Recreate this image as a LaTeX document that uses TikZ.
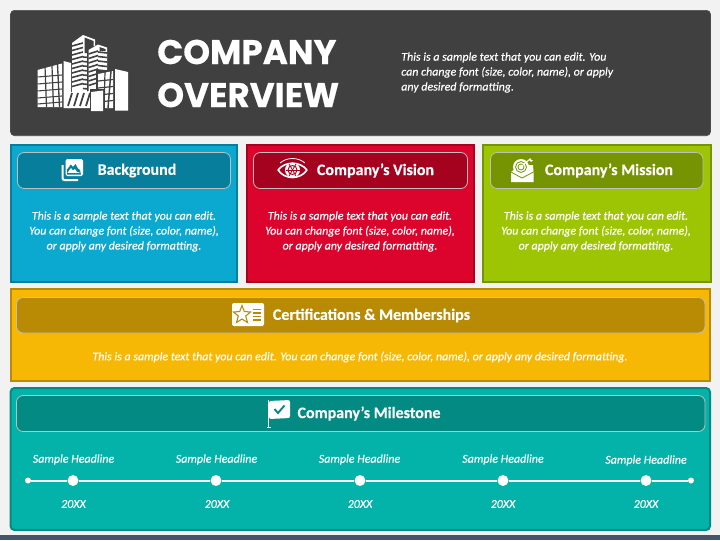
\documentclass[tikz,border=0pt]{standalone}
\usepackage{fontspec}
\setmainfont[BoldFeatures={FakeBold=0.3}]{Carlito}
\newfontfamily\titlefont[BoldFeatures={FakeBold=0.5}]{Poppins}
\newfontfamily\itfont[ItalicFeatures={FakeBold=0.25}]{Carlito}
\definecolor{pagebg}{HTML}{F2F2F2}
\definecolor{darkbg}{HTML}{404040}
\definecolor{blueF}{HTML}{0BA8D0}\definecolor{blueD}{HTML}{087E9D}
\definecolor{redF}{HTML}{DC042C}\definecolor{redD}{HTML}{A5021F}
\definecolor{greenF}{HTML}{9EC503}\definecolor{greenD}{HTML}{769402}
\definecolor{amberF}{HTML}{F7B805}\definecolor{amberD}{HTML}{B98A03}
\definecolor{tealF}{HTML}{03B3AA}\definecolor{tealD}{HTML}{038A82}
\definecolor{strip}{HTML}{44546A}
\tikzset{
 x=0.75pt,y=-0.75pt,
 cardbox/.style={line width=1.5pt},
 headbox/.style={rounded corners=5pt,draw=white!75!black,line width=0.6pt},
 headtxt/.style={text=white,font=\fontsize{12}{14}\selectfont\bfseries,anchor=center,inner sep=0pt},
 bodytxt/.style={text=white,font=\itfont\fontsize{8.95}{11.2}\selectfont\itshape,align=center,anchor=center,inner sep=0pt},
 tltxt/.style={text=white,font=\itfont\fontsize{9}{10}\selectfont\itshape,anchor=center,inner sep=0pt},
 bigdot/.style={circle,fill=white,minimum size=8.2pt,inner sep=0pt},
 smalldot/.style={circle,fill=white,minimum size=4.5pt,inner sep=0pt},
}
\begin{document}
\begin{tikzpicture}
\useasboundingbox (0,0) rectangle (720,540);
\fill[pagebg] (0,0) rectangle (720,540);
\fill[strip] (0,535) rectangle (720,540);
% title panel
\node[draw=black!70,fill=darkbg,rounded corners=3pt,minimum width=525pt,minimum height=94pt,inner sep=0pt,line width=.5pt] (top) at (360.5,73) {};
% building icon
\begin{scope}
% left block
\fill[white] (37.5,70) -- (62,63.5) -- (62,107) -- (37.5,107) -- cycle;
\foreach \yy in {77,84,91,98,104} \draw[darkbg,line width=.8pt] (37.5,\yy) -- (62,\yy-2);
\foreach \xx in {45,52} \draw[darkbg,line width=.9pt] (\xx,66) -- (\xx+1.5,107);
\draw[darkbg,line width=1pt] (57.5,64) -- (59.5,107);
% wall
\fill[white] (63.5,61) -- (71,63) -- (71,108) -- (63.5,108) -- cycle;
% tower 1
\fill[white] (72,43) -- (83,35) -- (83,92) -- (72,92) -- cycle;
\foreach \yy in {46,50.5,55,59.5,64,68.5,73,77.5,82,86.5} \draw[darkbg,line width=1.2pt] (72,\yy) -- (83,\yy-3);
\fill[white] (83,35) -- (95,39.5) -- (95,92) -- (83,92) -- cycle;
\fill[darkbg] (84.5,37.5) -- (93.5,41) -- (93.5,53) -- (84.5,53) -- cycle;
\foreach \yy in {57,61.5,66,70.5,75,79.5,84,88.5} \draw[darkbg,line width=1.2pt] (83,\yy) -- (95,\yy+1);
% tower 2
\fill[darkbg] (87,46) -- (108,46) -- (108,92) -- (87,92) -- cycle;
\fill[white] (88.5,50) -- (98,44.5) -- (107,47.5) -- (107,92) -- (88.5,92) -- cycle;
\foreach \yy in {54,58.5,63,67.5,72,76.5,81,85.5} \draw[darkbg,line width=1.2pt] (88.5,\yy) -- (98,\yy-3);
\foreach \yy in {52,56.5,61,65.5,70,74.5} \draw[darkbg,line width=1.2pt] (98,\yy) -- (107,\yy+1);
\fill[darkbg] (99.5,47) -- (105.5,49) -- (105.5,51) -- (99.5,51) -- cycle;
% right block
\fill[darkbg] (96,70) rectangle (114.5,110);
\fill[white] (98,74) -- (113,71) -- (113,108) -- (98,108) -- cycle;
\foreach \yy in {81,88,95,102} \draw[darkbg,line width=.9pt] (98,\yy) -- (113,\yy-1.5);
\draw[darkbg,line width=.9pt] (105,72) -- (104,108);
\draw[darkbg,line width=1.1pt] (111,71) -- (108,108);
% slab
\fill[white] (115,69) -- (128,72) -- (128,110.5) -- (115,110.5) -- cycle;
% lower centre
\fill[white] (66.5,92.5) -- (92,91) -- (92,108) -- (66.5,108) -- cycle;
\foreach \xx in {68,74,80,86} \draw[darkbg,line width=1.3pt] (\xx,106) -- (\xx+4,93);
\fill[darkbg] (89.5,89) rectangle (104.5,112);
\fill[white] (91,92) -- (103,90.5) -- (103,111) -- (91,111) -- cycle;
\end{scope}
\node[text=white,font=\titlefont\fontsize{25.6}{32}\selectfont\bfseries,anchor=west,inner sep=0pt] (t1) at (157,52) {COMPANY};
\node[text=white,font=\titlefont\fontsize{25.6}{32}\selectfont\bfseries,anchor=west,inner sep=0pt] (t2) at (157,95) {OVERVIEW};
\node[text=white,font=\itfont\fontsize{8.95}{11.2}\selectfont\itshape,align=left,anchor=west,inner sep=0pt] (tt) at (401,72.5) {This is a sample text that you can edit. You\\can change font (size, color, name), or apply\\any desired formatting.};
% cards
\fill[blueF,draw=blueD,cardbox] (10.5,144.5) rectangle (237,281.5);
\fill[blueD,headbox] (17.5,152.5) rectangle (230.5,188.5);
\node[headtxt] (h1) at (137,170.5) {Background};
\node[bodytxt] (b1) at (124,231.5) {This is a sample text that you can edit.\\You can change font (size, color, name),\\or apply any desired formatting.};
\fill[redF,draw=redD,cardbox] (246.5,144.5) rectangle (473.5,281.5);
\fill[redD,headbox] (253.5,152.5) rectangle (467.5,188.5);
\node[headtxt] (h2) at (375.5,170.5) {Company’s Vision};
\node[bodytxt] (b2) at (360,231.5) {This is a sample text that you can edit.\\You can change font (size, color, name),\\or apply any desired formatting.};
\fill[greenF,draw=greenD,cardbox] (482.5,144.5) rectangle (710.5,281.5);
\fill[greenD,headbox] (490.5,152.5) rectangle (703,188.5);
\node[headtxt] (h3) at (609,170.5) {Company’s Mission};
\node[bodytxt] (b3) at (596,231.5) {This is a sample text that you can edit.\\You can change font (size, color, name),\\or apply any desired formatting.};
\fill[amberF,draw=amberD,cardbox] (10.5,289) rectangle (710,380.5);
\fill[amberD,headbox] (16.5,297.5) rectangle (705,333);
\node[headtxt] (h4) at (371.5,315.5) {Certifications \& Memberships};
\node[bodytxt] (b4) at (360,357) {This is a sample text that you can edit. You can change font (size, color, name), or apply any desired formatting.};
\fill[tealF,draw=tealD,cardbox,rounded corners=3pt] (10.5,388) rectangle (710,530);
\fill[tealD,headbox] (16.5,395.5) rectangle (705,431.5);
\node[headtxt] (h5) at (369,413.5) {Company’s Milestone};
% icon background
\begin{scope}
\fill[white,rounded corners=1.2pt] (65.5,159) rectangle (83,176);
\fill[blueD] (67,169.5) -- (71,164.5) -- (73,167) -- (75.5,164) -- (78,168.5) -- (80,170) -- (81,174.5) -- (67,174.5) -- cycle;
\fill[white] (67.5,172.8) -- (71,168) -- (73,170.5) -- (75,169) -- (77,172) -- (80.5,172.8) -- cycle;
\draw[white,line width=1.5pt,rounded corners=1.5pt] (62.5,165) -- (62.5,180) -- (78,180);
\end{scope}
% icon eye
\begin{scope}
\draw[white,line width=1.2pt] (278,170) .. controls (285,161) and (300,161) .. (307,170);
\draw[white,line width=1.2pt] (278,170) .. controls (285,180) and (300,180) .. (307,170);
\draw[white,line width=.6pt] (280,163) .. controls (287,157) and (298,157) .. (305,163);
\fill[white] (292.5,170) circle (7.5);
\foreach \a in {0,60,...,300} \draw[redD,line width=.6pt] (292.5,170) -- ++(\a:7);
\draw[redD,line width=.7pt] (292.5,170) circle (4.5);
\end{scope}
% icon mission
\begin{scope}
\fill[white] (511,172) -- (520,165) -- (533,165) -- (533.5,172) -- (533.5,182) -- (511,182) -- cycle;
\fill[white] (521,167) circle (8);
\draw[greenD,line width=.6pt] (521,167) circle (5.5);
\draw[greenD,line width=.6pt] (521,167) circle (3);
\draw[greenD,line width=.6pt] (511,172) -- (522,178) -- (533.5,172);
\draw[white,line width=.8pt] (522,166) -- (530,159);
\fill[white] (529,160) -- (531,158) -- (531,160) -- (533,160) -- (531,162) -- cycle;
\end{scope}
% icon certificate
\begin{scope}
\fill[white,rounded corners=1.5pt] (232,303) rectangle (264,326);
\draw[amberD,line width=.8pt] (242,305.5) -- (244.3,311.5) -- (250.5,312) -- (245.7,316) -- (247.5,322.5) -- (242,319) -- (236.5,322.5) -- (238.3,316) -- (233.5,312) -- (239.7,311.5) -- cycle;
\foreach \yy in {309.5,313,316.5,320} \draw[amberD,line width=1pt] (253,\yy) -- (261,\yy);
\end{scope}
% icon flag
\begin{scope}
\draw[white,line width=1.1pt] (268.5,399.5) -- (268.5,427.5);
\fill[white] (266.5,426.5) rectangle (271,428);
\fill[white,rounded corners=1.5pt] (269,401) -- (290,400) -- (290,418) -- (269,419) -- cycle;
\draw[tealD,line width=1.4pt] (274.5,409) -- (278,413) -- (284.5,405.5);
\end{scope}
% timeline
\node[smalldot] (s0) at (28,480.5) {};
\node[smalldot] (s1) at (691,480.5) {};
\node[bigdot] (d1) at (73,480.5) {};
\node[bigdot] (d2) at (216,480.5) {};
\node[bigdot] (d3) at (360,480.5) {};
\node[bigdot] (d4) at (503,480.5) {};
\node[bigdot] (d5) at (646,480.5) {};
\draw[white,line width=1.5pt] (s0) -- (d1) -- (d2) -- (d3) -- (d4) -- (d5) -- (s1);
\node[tltxt] (l1) at (73.5,459.5) {Sample Headline};
\node[tltxt] (l2) at (216.5,459.5) {Sample Headline};
\node[tltxt] (l3) at (359.5,459.5) {Sample Headline};
\node[tltxt] (l4) at (503,459.5) {Sample Headline};
\node[tltxt] (l5) at (646,460.5) {Sample Headline};
\node[tltxt] (y1) at (73.5,504) {20XX};
\node[tltxt] (y2) at (217,504) {20XX};
\node[tltxt] (y3) at (360,504) {20XX};
\node[tltxt] (y4) at (503,504) {20XX};
\node[tltxt] (y5) at (646,504) {20XX};
\end{tikzpicture}
\end{document}
